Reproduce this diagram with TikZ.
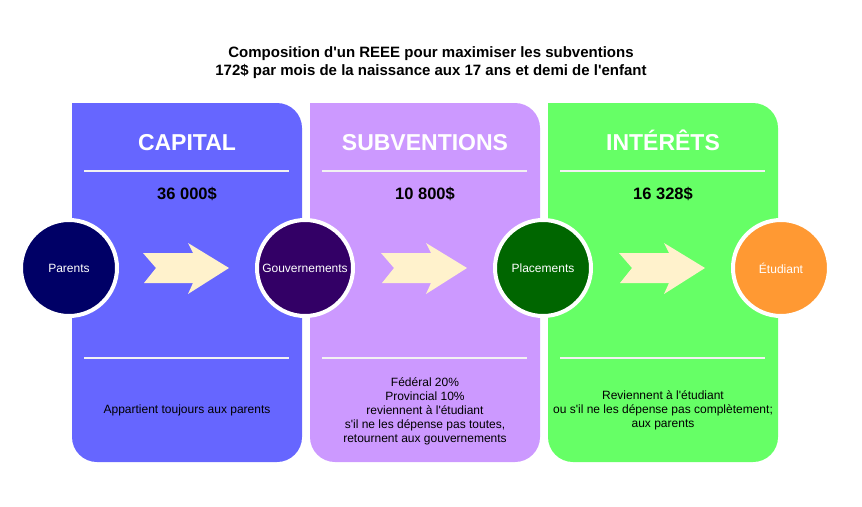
\documentclass[tikz,border=0pt]{standalone}
\usepackage{fontspec}
\setmainfont{Liberation Sans}
\newcommand{\ap}{\textquotesingle}
\begin{document}
\begin{tikzpicture}[x=1pt,y=-1pt,
  head/.style={font=\fontsize{23}{25}\selectfont\bfseries,text=white,anchor=base},
  amt/.style={font=\fontsize{16.5}{18}\selectfont\bfseries},
  body/.style={font=\fontsize{12}{14}\selectfont,align=center},
  circ/.style={circle,draw=white,line width=4pt,minimum size=96pt,inner sep=0pt,text=white,font=\fontsize{12}{13}\selectfont},
  sep/.style={draw=white!90!gray,line width=1.2pt}]
\useasboundingbox (0,0) rectangle (862,506);
\definecolor{colcap}{HTML}{6666FF}\definecolor{colsub}{HTML}{CC99FF}\definecolor{colint}{HTML}{66FF66}
\definecolor{arrc}{HTML}{FFF2CC}
\node[font=\fontsize{15}{18}\selectfont\bfseries,align=center] (title) at (431,63)
 {Composition d\ap un REEE pour maximiser les subventions\\172\$ par mois de la naissance aux 17 ans et demi de l\ap enfant};
\foreach \x/\c/\n in {72/colcap/p1,310/colsub/p2,548/colint/p3}{
  \fill[fill=\c,rounded corners=25pt] (\x,103) rectangle ++(230,359);
  \fill[fill=\c] (\x,103) rectangle ++(30,30);
  \draw[sep] (\x+12,171) -- ++(205,0);
  \draw[sep] (\x+12,358) -- ++(205,0);
  \coordinate (\n) at (\x+115,0);
}
\node[head] (h1) at (187,150) {CAPITAL};
\node[head] (h2) at (425,150) {SUBVENTIONS};
\node[head] (h3) at (663,150) {INTÉRÊTS};
\node[amt] (a1) at (187,194) {36 000\$};
\node[amt] (a2) at (425,194) {10 800\$};
\node[amt] (a3) at (663,194) {16 328\$};
\node[body] (b1) at (187,410) {Appartient toujours aux parents};
\node[body] (b2) at (425,411) {Fédéral 20\%\\Provincial 10\%\\reviennent à l\ap étudiant\\s\ap il ne les dépense pas toutes,\\retournent aux gouvernements};
\node[body] (b3) at (663,410) {Reviennent à l\ap étudiant\\ou s\ap il ne les dépense pas complètement;\\aux parents};
\foreach \dx in {0,238,476}{
  \fill[arrc] (143+\dx,253) -- (193+\dx,253) -- (188+\dx,243) -- (229+\dx,268) -- (188+\dx,294) -- (193+\dx,283) -- (144+\dx,283) -- (156+\dx,268) -- cycle;
}
\node[circ,fill={rgb,255:red,0;green,0;blue,102}] (c1) at (69,268) {Parents};
\node[circ,fill={rgb,255:red,51;green,0;blue,102}] (c2) at (305,268) {Gouvernements};
\node[circ,fill={rgb,255:red,0;green,102;blue,0}] (c3) at (543,268) {Placements};
\node[circ,fill={rgb,255:red,255;green,153;blue,51}] (c4) at (781,268) {Étudiant};
\end{tikzpicture}
\end{document}
